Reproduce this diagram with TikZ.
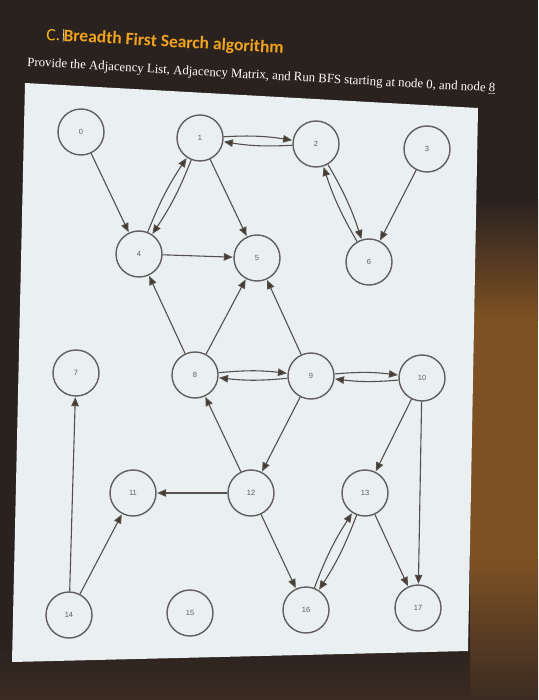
\documentclass[tikz,border=0pt]{standalone}
\usepackage{fontspec}
\setmainfont{Liberation Serif}
\setsansfont{Liberation Sans}
\newfontfamily\titlefont{Carlito}
\usetikzlibrary{arrows.meta}
\definecolor{bgdark}{HTML}{2A221F}
\definecolor{bgbrown}{HTML}{3A2B22}
\definecolor{glow}{HTML}{7E5124}
\definecolor{paper}{HTML}{EAEFF2}
\definecolor{titleorange}{HTML}{F2A31E}
\definecolor{edgegray}{HTML}{55504C}
\definecolor{tipgray}{HTML}{463A30}
\definecolor{circgray}{HTML}{625E5C}
\tikzset{
  vtx/.style={circle, draw=circgray, line width=1.4pt, fill=paper, minimum size=46pt, inner sep=0pt,
    font=\sffamily\fontsize{7.5}{8}\selectfont, text=circgray},
  edge/.style={draw=edgegray, line width=1.1pt, -{Triangle[length=9pt,width=7.5pt,fill=tipgray]}, shorten >=0.5pt},
  pair/.style={edge, bend left=6}
}
\begin{document}
\begin{tikzpicture}[x=1pt,y=-1pt]
\useasboundingbox (0,0) rectangle (538,700);
% background photo
\fill[bgdark] (0,0) rectangle (538,700);
\shade[top color=bgdark, bottom color=glow] (470,200) rectangle (538,320);
\fill[glow] (470,319) rectangle (538,560);
\shade[top color=glow, bottom color=bgbrown] (470,559) rectangle (538,700);
\shade[top color=bgdark, bottom color=bgbrown] (0,640) rectangle (470,700);
% paper panel
\fill[paper] (25,83) -- (478,108) -- (468,651) -- (12,662) -- cycle;
% title
\node[anchor=base west, rotate=-3.3, inner sep=0pt, text=titleorange!80!yellow] (tc) at (46,40)
  {\titlefont\fontsize{17.5}{20}\selectfont C.\,{\color{white!80!titleorange}\rule[-1pt]{0.6pt}{13pt}}\textbf{\color{titleorange}Breadth First Search algorithm}};
\node[anchor=base west, rotate=-3.2, inner sep=0pt, text=white] (sub) at (27,66)
  {\fontsize{12.8}{14}\selectfont Provide the Adjacency List, Adjacency Matrix, and Run BFS starting at node 0, and node \underline{8}};
% nodes
\node[vtx] (n0) at (81,132) {0};
\node[vtx] (n1) at (200,138) {1};
\node[vtx] (n2) at (316,144) {2};
\node[vtx] (n3) at (427,149) {3};
\node[vtx] (n4) at (139,254) {4};
\node[vtx] (n5) at (257,258) {5};
\node[vtx] (n6) at (369,262) {6};
\node[vtx] (n7) at (76,373) {7};
\node[vtx] (n8) at (195,375) {8};
\node[vtx] (n9) at (311,376) {9};
\node[vtx] (n10) at (422,378) {10};
\node[vtx] (n11) at (133,493) {11};
\node[vtx] (n12) at (251,493) {12};
\node[vtx] (n13) at (365,493) {13};
\node[vtx] (n14) at (69,615) {14};
\node[vtx] (n15) at (190,613) {15};
\node[vtx] (n16) at (306,610) {16};
\node[vtx] (n17) at (418,608) {17};
% edges
\draw[edge] (n0) -- (n4);
\draw[pair] (n1) to (n2);
\draw[pair] (n2) to (n1);
\draw[pair] (n1) to (n4);
\draw[pair] (n4) to (n1);
\draw[edge] (n1) -- (n5);
\draw[edge] (n4) -- (n5);
\draw[pair] (n2) to (n6);
\draw[pair] (n6) to (n2);
\draw[edge] (n3) -- (n6);
\draw[edge] (n8) -- (n4);
\draw[edge] (n8) -- (n5);
\draw[edge] (n9) -- (n5);
\draw[pair] (n8) to (n9);
\draw[pair] (n9) to (n8);
\draw[pair] (n9) to (n10);
\draw[pair] (n10) to (n9);
\draw[edge] (n9) -- (n12);
\draw[edge] (n12) -- (n8);
\draw[edge] (n10) -- (n13);
\draw[edge] (n10) -- (n17);
\draw[edge] (n12) -- (n11);
\draw[edge] (n14) -- (n11);
\draw[edge] (n14) -- (n7);
\draw[edge] (n12) -- (n16);
\draw[pair] (n13) to (n16);
\draw[pair] (n16) to (n13);
\draw[edge] (n13) -- (n17);
\end{tikzpicture}
\end{document}
